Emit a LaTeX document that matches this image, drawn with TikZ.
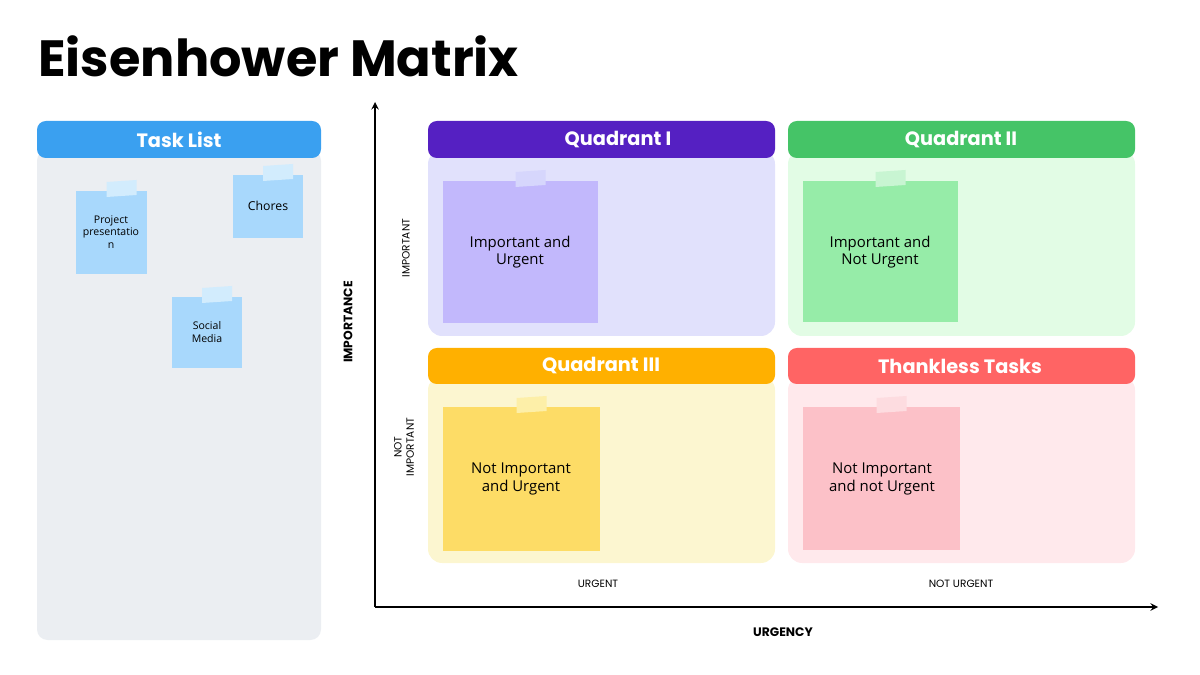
\documentclass[tikz,border=0pt]{standalone}
\usepackage{fontspec}
\setmainfont{Poppins}
\newfontfamily\notefont{Open Sans}
\usetikzlibrary{positioning}
\definecolor{tasktop}{HTML}{3AA0F0}
\definecolor{taskbody}{HTML}{EBEEF2}
\definecolor{tasknote}{HTML}{A8D8FC}
\definecolor{tasktape}{HTML}{D2ECFD}
\definecolor{qitop}{HTML}{5520C2}
\definecolor{qibody}{HTML}{E1E1FC}
\definecolor{qinote}{HTML}{C2B8FC}
\definecolor{qitape}{HTML}{D6D6FC}
\definecolor{qiitop}{HTML}{45C467}
\definecolor{qiibody}{HTML}{E2FCE5}
\definecolor{qiinote}{HTML}{96ECA8}
\definecolor{qiitape}{HTML}{C8F5D2}
\definecolor{qiiitop}{HTML}{FFB000}
\definecolor{qiiibody}{HTML}{FCF6D0}
\definecolor{qiiinote}{HTML}{FDDC66}
\definecolor{qiiitape}{HTML}{FDEFA8}
\definecolor{qivtop}{HTML}{FF6464}
\definecolor{qivbody}{HTML}{FFE9EC}
\definecolor{qivnote}{HTML}{FCC1C8}
\definecolor{qivtape}{HTML}{FDDCE0}
\tikzset{
  head/.style={rounded corners=4, text=white, font=\fontsize{11}{13}\selectfont\bfseries},
  axislabel/.style={font=\fontsize{7}{8}\selectfont\bfseries, align=center},
  ticklabel/.style={font=\fontsize{6}{7}\selectfont, align=center},
  notetext/.style={font=\notefont\fontsize{8.5}{10}\selectfont, align=center},
  smalltext/.style={font=\notefont\fontsize{6}{7}\selectfont, align=center},
}
\newcommand{\sticky}[6]{% x1,y1,x2,y2,note colour,tape colour
  \fill[#5] (#1,#2) rectangle (#3,#4);
  \fill[#6] ({(#1+#3)/2-5},#2-9) -- ({(#1+#3)/2+25},#2-11) -- ({(#1+#3)/2+25},#2+4) -- ({(#1+#3)/2-5},#2+6) -- cycle;
}
\begin{document}
\begin{tikzpicture}[x=0.02cm,y=-0.02cm]
\useasboundingbox (0,0) rectangle (1200,675);

% title
\node[anchor=base west, font=\fontsize{29}{32}\selectfont\bfseries, inner sep=0] (title) at (38,77) {Eisenhower Matrix};

% task list
\fill[taskbody, rounded corners=6] (37,150) rectangle (321,640);
\fill[tasktop, rounded corners=5] (37,121) rectangle (321,158);
\node[text=white, font=\fontsize{11}{13}\selectfont\bfseries] (tasks) at (179,140) {Task List};
\sticky{76}{191}{147}{274}{tasknote}{tasktape}
\sticky{233}{175}{303}{238}{tasknote}{tasktape}
\sticky{172}{297}{242}{368}{tasknote}{tasktape}
\node[smalltext] (project) at (111,232) {Project\\presentatio\\n};
\node[smalltext, font=\notefont\fontsize{7}{8}\selectfont] (chores) at (268,206) {Chores};
\node[smalltext] (social) at (207,332) {Social\\Media};

% quadrant bodies and headers
\fill[qibody, rounded corners=8] (428,150) rectangle (775,336);
\fill[qitop, rounded corners=5] (428,121) rectangle (775,158);
\fill[qiibody, rounded corners=8] (788,150) rectangle (1135,336);
\fill[qiitop, rounded corners=5] (788,121) rectangle (1135,158);
\fill[qiiibody, rounded corners=8] (428,376) rectangle (775,563);
\fill[qiiitop, rounded corners=5] (428,348) rectangle (775,384);
\fill[qivbody, rounded corners=8] (788,376) rectangle (1135,563);
\fill[qivtop, rounded corners=5] (788,348) rectangle (1135,384);
\node[text=white, font=\fontsize{11}{13}\selectfont\bfseries] (qi) at (618,140) {Quadrant I};
\node[text=white, font=\fontsize{11}{13}\selectfont\bfseries] (qii) at (961,140) {Quadrant II};
\node[text=white, font=\fontsize{11}{13}\selectfont\bfseries] (qiii) at (601,366) {Quadrant III};
\node[text=white, font=\fontsize{11}{13}\selectfont\bfseries] (qiv) at (960,366) {Thankless Tasks};

% notes
\sticky{443}{181}{598}{323}{qinote}{qitape}
\sticky{803}{181}{958}{322}{qiinote}{qiitape}
\sticky{443}{407}{600}{551}{qiiinote}{qiiitape}
\sticky{803}{407}{960}{550}{qivnote}{qivtape}
\node[notetext] (iu) at (520,252) {Important and\\Urgent};
\node[notetext] (inu) at (880,252) {Important and\\Not Urgent};
\node[notetext] (niu) at (521,479) {Not Important\\and Urgent};
\node[notetext] (ninu) at (882,479) {Not Important\\and not Urgent};

% axes
\coordinate (origin) at (375,607);
\coordinate (ytop) at (375,102);
\coordinate (xend) at (1158,607);
\draw[line width=0.9pt, -stealth] (origin) -- (ytop);
\draw[line width=0.9pt, -stealth] (origin) -- (xend);

% labels
\node[axislabel, rotate=90] (importance) at (348,322) {IMPORTANCE};
\node[axislabel] (urgency) at (783,632) {URGENCY};
\node[ticklabel, rotate=90] (imp) at (406,248) {IMPORTANT};
\node[ticklabel, rotate=90] (notimp) at (404,447) {NOT\\IMPORTANT};
\node[ticklabel] (urg) at (598,584) {URGENT};
\node[ticklabel] (noturg) at (961,584) {NOT URGENT};
\end{tikzpicture}
\end{document}
